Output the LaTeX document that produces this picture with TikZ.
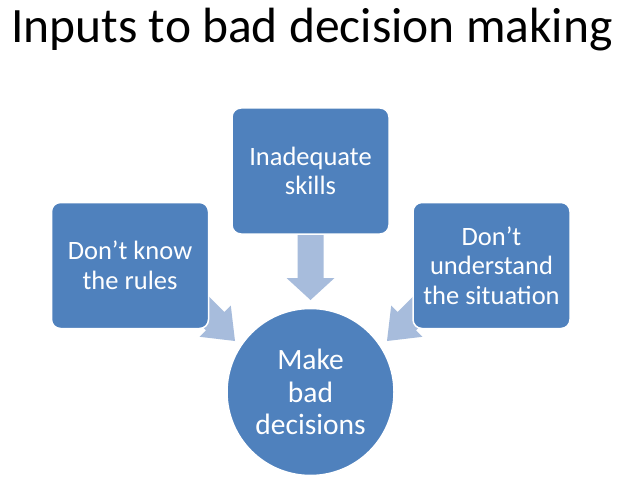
\documentclass[tikz,border=0pt]{standalone}
\usepackage{fontspec}
\setmainfont{Carlito}
\definecolor{boxblue}{HTML}{4F81BD}
\definecolor{arrowblue}{HTML}{A7BCDC}
\begin{document}
\begin{tikzpicture}[x=1pt,y=-1pt,
  inbox/.style={draw=white,line width=1.5pt,fill=boxblue,rounded corners=9pt,
    minimum width=157pt,minimum height=126pt,text=white,align=center,
    font=\fontsize{26.5}{29.5}\selectfont,inner sep=0pt},
  hub/.style={draw=white,line width=1.5pt,fill=boxblue,circle,minimum size=167pt,
    text=white,align=center,font=\fontsize{29.5}{32.5}\selectfont,inner sep=0pt},
  blockarrow/.style={fill=arrowblue,draw=none}]
\useasboundingbox (0,0) rectangle (620,481);
\fill[white] (0,0) rectangle (620,481);
\node[anchor=base,font=\fontsize{49.5}{58}\selectfont] (title) at (312,43) {Inputs to bad decision making};
% block arrows (drawn beneath the shapes)
\fill[blockarrow] (297.5,225) -- (323.5,225) -- (323.5,278) -- (334.5,278) -- (310.5,300)
  -- (286.5,278) -- (297.5,278) -- cycle;
\fill[blockarrow] (189.0,276.6) -- (224.4,312.0) -- (230.8,305.6) -- (235,341)
  -- (199.6,336.8) -- (206.0,330.4) -- (170.6,295.0) -- cycle;
\fill[blockarrow] (433.0,276.6) -- (397.6,312.0) -- (391.2,305.6) -- (387,341)
  -- (422.4,336.8) -- (416.0,330.4) -- (451.4,295.0) -- cycle;
% shapes
\node[inbox] (rules) at (130,265.5) {Don’t know\\the rules};
\node[inbox] (skills) at (310.5,171) {Inadequate\\skills};
\node[inbox] (situation) at (491.5,265.5) {Don’t\\understand\\the situation};
\node[hub] (decide) at (310.5,392) {Make\\bad\\decisions};
\end{tikzpicture}
\end{document}
